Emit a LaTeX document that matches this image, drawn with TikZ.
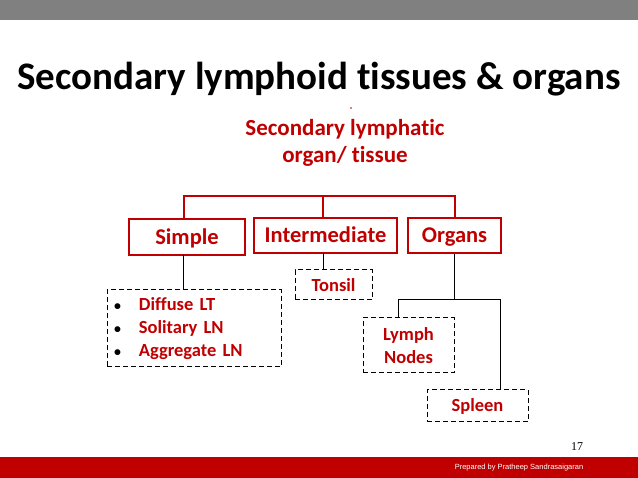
\documentclass[tikz,border=0pt]{standalone}
\usepackage{fontspec}
\setmainfont{Carlito}[Ligatures=NoCommon]
\usepackage{tikz}
\usetikzlibrary{positioning}
\definecolor{darkred}{HTML}{C00000}
\definecolor{bargray}{HTML}{808080}
\newcommand{\dotitem}{\textcolor{black}{\scalebox{0.75}{\textbullet}}\hspace{18pt}}
\begin{document}
\begin{tikzpicture}
[
x=1pt, y=-1pt,
box-r/.style={draw=darkred, line width=1.6pt, text=darkred, font=\bfseries\fontsize{22.5}{26}\selectfont, inner sep=0pt, text height=18pt, text depth=3pt},
box-d/.style={draw=black, dash pattern=on 5pt off 3pt, line width=1pt, text=darkred, font=\bfseries\fontsize{18.5}{23}\selectfont, inner sep=0pt},
line-r/.style={darkred, line width=1.6pt},
line-b/.style={black, line width=1pt}
]
\useasboundingbox (0,0) rectangle (638,478);
\fill[bargray] (0,0) rectangle (638,20);
\fill[darkred] (0,457) rectangle (638,478);
\node (title)  at (319,79)  {\bfseries\fontsize{39}{44}\selectfont Secondary lymphoid tissues \& organs};
\node (head)   [align=center, text=darkred, font=\bfseries\fontsize{23}{27}\selectfont] at (345,143) {Secondary lymphatic\\organ/ tissue};
\fill[darkred] (351,108) circle (0.9);
\node (simple) [box-r, minimum width=116, minimum height=36] at (187,237) {Simple};
\node (inter)  [box-r, minimum width=143, minimum height=35] at (325.5,235.5) {Intermediate};
\node (organs) [box-r, minimum width=93,  minimum height=35] at (454.5,235.5) {Organs};
\coordinate (top-s) at (184,196);
\coordinate (top-o) at (455,196);
\coordinate (top-i) at (323,196);
\draw[line-r] (top-s |- simple.north) -- (top-s) -- (top-o) -- (top-o |- organs.north);
\draw[line-r] (top-i) -- (top-i |- inter.north);
\node (types)  [box-d, minimum width=174, minimum height=77, text width=160, align=left] at (194,328.5)
  {\dotitem Diffuse LT\\ \dotitem Solitary LN\\ \dotitem Aggregate LN};
\node (tonsil) [box-d, minimum width=77, minimum height=30, text height=15pt, text depth=1pt] at (333.5,285) {Tonsil};
\node (lymph)  [box-d, minimum width=91, minimum height=55, align=center] at (408.5,345.5) {Lymph\\Nodes};
\node (spleen) [box-d, minimum width=101, minimum height=32] at (477.5,406) {Spleen};
\draw[line-b] (183,255) -- (183,290);
\draw[line-b] (323,253) -- (323,270);
\coordinate (split) at (454,300);
\coordinate (left-b) at (398,300);
\coordinate (right-b) at (500,300);
\draw[line-b] (split |- organs.south) -- (split);
\draw[line-b] (left-b |- lymph.north) -- (left-b) -- (right-b) -- (right-b |- spleen.north);
\node (page) at (577,447) {\fontspec{Liberation Serif}\fontsize{12}{14}\selectfont 17};
\node (credit) [text=white] at (519,468) {\fontspec{Liberation Sans}\fontsize{7.5}{9}\selectfont Prepared by Pratheep Sandrasaigaran};
\end{tikzpicture}
\end{document}
